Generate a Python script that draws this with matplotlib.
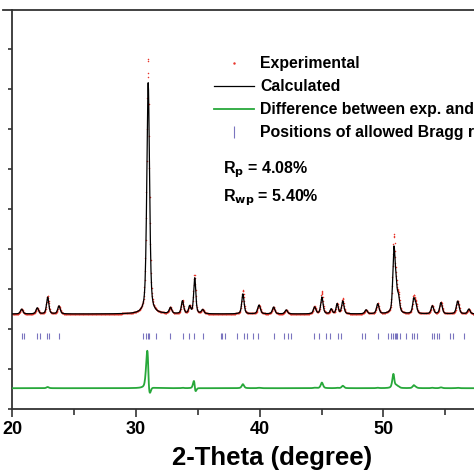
import numpy as np
import matplotlib
matplotlib.use("Agg")
import matplotlib.pyplot as plt
from matplotlib.lines import Line2D

plt.rcParams['font.family'] = ['Liberation Sans', 'DejaVu Sans']
plt.rcParams['font.weight'] = 'bold'

peak_pos = [20.78, 22.04, 22.88, 23.79, 31.00, 32.80, 33.77, 34.35, 34.76, 35.40,
            38.65, 39.95, 41.13, 42.15, 44.44, 45.03, 45.78, 46.26, 46.72, 48.60,
            49.54, 50.85, 51.02, 51.22, 52.45, 52.62, 53.95, 54.65, 56.00, 56.90]
calc_height = [0.12, 0.15, 0.42, 0.20, 5.78, 0.15, 0.32, 0.18, 0.90, 0.10,
               0.50, 0.22, 0.17, 0.10, 0.17, 0.42, 0.12, 0.25, 0.32, 0.10,
               0.25, 1.55, 0.55, 0.35, 0.35, 0.20, 0.20, 0.28, 0.32, 0.12]
obs_height = [0.12, 0.15, 0.45, 0.20, 6.40, 0.15, 0.33, 0.18, 0.98, 0.10,
              0.60, 0.23, 0.17, 0.10, 0.18, 0.56, 0.12, 0.26, 0.38, 0.10,
              0.26, 1.85, 0.62, 0.38, 0.42, 0.22, 0.21, 0.30, 0.33, 0.12]
obs_shift = [0.0, 0.0, 0.0, 0.0, -0.015, 0.0, 0.0, 0.0, -0.02, 0.0,
             0.0, 0.0, 0.0, 0.0, 0.0, 0.0, 0.0, 0.0, 0.0, 0.0,
             0.0, -0.01, 0.0, 0.0, 0.0, 0.0, 0.0, 0.0, 0.0, 0.0]
peak_hwhm = [0.12, 0.12, 0.11, 0.12, 0.13, 0.12, 0.11, 0.10, 0.10, 0.12,
             0.11, 0.13, 0.12, 0.12, 0.12, 0.11, 0.10, 0.10, 0.11, 0.12,
             0.12, 0.11, 0.11, 0.11, 0.11, 0.11, 0.12, 0.12, 0.13, 0.12]

bragg_pos = [20.8, 21.0, 22.0, 22.3, 22.8, 23.0, 23.8, 30.6, 30.8, 31.0, 31.1, 31.6,
             32.8, 33.8, 34.3, 34.7, 35.4, 36.9, 37.0, 37.2, 38.2, 38.7, 39.0, 39.5,
             39.9, 41.2, 42.0, 42.3, 42.5, 44.4, 44.8, 45.4, 45.7, 46.3, 46.6, 48.3,
             48.5, 49.6, 50.4, 50.6, 50.8, 50.9, 51.0, 51.1, 51.3, 51.8, 52.3, 52.5,
             52.7, 53.9, 54.1, 54.3, 54.5, 55.4, 55.6, 56.5]

background = 2.375
bragg_level = 1.83
diff_level = 0.52
eta = 0.5  # lorentzian fraction of the pseudo-voigt

two_theta = np.arange(20.0, 62.0, 0.025)


def profile(heights, shifts):
    y = np.full_like(two_theta, background)
    for p, h, s, w in zip(peak_pos, heights, shifts, peak_hwhm):
        d = (two_theta - p - s) / w
        y += h * (eta / (1 + d ** 2) + (1 - eta) * np.exp(-np.log(2) * d ** 2))
    return y


calc = profile(calc_height, [0.0] * len(peak_pos))
obs = profile(obs_height, obs_shift)
diff = obs - calc + diff_level

fig = plt.figure(figsize=(4.74, 4.74), dpi=100)
ax = fig.add_axes([12 / 474, (474 - 409) / 474, 520 / 474, 399 / 474])

ax.plot(two_theta, obs, '.', color='#e8352b', ms=2.2, mew=0, label='Experimental', zorder=2)
ax.plot(two_theta, calc, '-', color='black', lw=0.9, label='Calculated', zorder=3)
ax.plot(two_theta, diff, '-', color='#27a83a', lw=1.3,
        label='Difference between exp. and calc.', zorder=3)
ax.plot(bragg_pos, [bragg_level] * len(bragg_pos), '|', color='#7a74bf', ms=5, mew=0.8,
        label='Positions of allowed Bragg reflections', zorder=2)

ax.set_xlim(20, 62)
ax.set_ylim(0, 9.975)
ax.set_xticks([20, 30, 40, 50])
ax.set_xticks([25, 35, 45, 55], minor=True)
ax.set_yticks(range(0, 10))
ax.tick_params(axis='y', which='major', direction='out', length=3, width=1.2,
               labelleft=False, color='#333333')
ax.tick_params(axis='x', which='major', direction='out', length=6, width=1.2,
               labelsize=13, pad=3, color='#333333')
ax.tick_params(axis='x', which='minor', direction='out', length=4, width=1.2, color='#333333')
for lab in ax.get_xticklabels():
    lab.set_fontweight('bold')
for sp in ax.spines.values():
    sp.set_linewidth(1.3)
    sp.set_color('#333333')

ax.set_xlabel('2-Theta (degree)', fontsize=18.5, fontweight='bold')
ax.xaxis.set_label_coords((272 - 12) / 520, -0.093)

leg = ax.legend(loc='upper left', bbox_to_anchor=((208 - 12) / 520, (409 - 50) / 399),
                frameon=False, fontsize=11.4, handlelength=2.5, handletextpad=0.4,
                labelspacing=0.5, borderaxespad=0, markerscale=1.6)
for t in leg.get_texts():
    t.set_fontweight('bold')

ax.text((223 - 12) / 520, (409 - 170) / 399, r'R$_\mathbf{p}$ = 4.08%', transform=ax.transAxes,
        fontsize=11.5, fontweight='bold', va='center', ha='left')
ax.text((223 - 12) / 520, (409 - 198) / 399, r'R$_\mathbf{wp}$ = 5.40%', transform=ax.transAxes,
        fontsize=11.5, fontweight='bold', va='center', ha='left')

fig.add_artist(Line2D([3 / 474, 12 / 474], [1 - 10 / 474, 1 - 10 / 474],
                      color='#333333', lw=1.3, transform=fig.transFigure))

fig.savefig('out.png', dpi=100)
